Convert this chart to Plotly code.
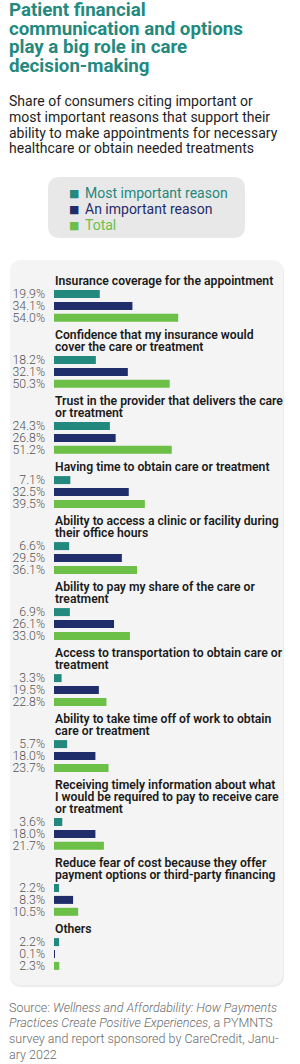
import plotly.graph_objects as go

# ---------------- data ----------------
categories = [
    "Insurance coverage for the appointment",
    "Confidence that my insurance would\ncover the care or treatment",
    "Trust in the provider that delivers the care\nor treatment",
    "Having time to obtain care or treatment",
    "Ability to access a clinic or facility during\ntheir office hours",
    "Ability to pay my share of the care or\ntreatment",
    "Access to transportation to obtain care or\ntreatment",
    "Ability to take time off of work to obtain\ncare or treatment",
    "Receiving timely information about what\nI would be required to pay to receive care\nor treatment",
    "Reduce fear of cost because they offer\npayment options or third-party financing",
    "Others",
]
most_important = [19.9, 18.2, 24.3, 7.1, 6.6, 6.9, 3.3, 5.7, 3.6, 2.2, 2.2]
an_important = [34.1, 32.1, 26.8, 32.5, 29.5, 26.1, 19.5, 18.0, 18.0, 8.3, 0.1]
total = [54.0, 50.3, 51.2, 39.5, 36.1, 33.0, 22.8, 23.7, 21.7, 10.5, 2.3]
series_names = ["Most important reason", "An important reason", "Total"]

title_lines = ["Patient financial", "communication and options",
               "play a big role in care", "decision-making"]
subtitle_lines = ["Share of consumers citing important or",
                  "most important reasons that support their",
                  "ability to make appointments for necessary",
                  "healthcare or obtain needed treatments"]
source_lines = ["Source: <i>Wellness and Affordability: How Payments</i>",
                "<i>Practices Create Positive Experiences</i>, a PYMNTS",
                "survey and report sponsored by CareCredit, Janu-",
                "ary 2022"]

# ---------------- styling ----------------
W, H = 300, 1064
TEAL = "#23897e"
NAVY = "#1f2d6b"
GREEN = "#6cbf47"
colors = [TEAL, NAVY, GREEN]
FONT = "Roboto"

X0_PX, X1_PX = 54, 284  # plot x extent in pixels (0..100%)

def px(x):
    return x / W

# layout of groups (pixel y positions from top)
LINE = 11.9
PITCH = 11.9
LAB_TO_BAR = 13.5
BAR_TO_LAB = 16.8
cur = 280.5
label_pos = []
bar_pos = []
for lab in categories:
    lines = lab.split("\n")
    for i, ln in enumerate(lines):
        label_pos.append((ln, cur + i * LINE))
    last = cur + (len(lines) - 1) * LINE
    b0 = last + LAB_TO_BAR
    bar_pos.append([b0, b0 + PITCH, b0 + 2 * PITCH])
    cur = b0 + 2 * PITCH + BAR_TO_LAB

fig = go.Figure()
series = [most_important, an_important, total]
for s, (name, vals) in enumerate(zip(series_names, series)):
    fig.add_trace(go.Bar(
        x=vals,
        y=[bp[s] for bp in bar_pos],
        orientation="h",
        width=8,
        marker=dict(color=colors[s], line=dict(width=0)),
        name=name,
        showlegend=False,
        hoverinfo="x",
    ))

tickvals, ticktext = [], []
for g in range(len(categories)):
    for s in range(3):
        tickvals.append(bar_pos[g][s])
        ticktext.append(f"{series[s][g]:.1f}%")

annotations = []
# title
for i, t in enumerate(title_lines):
    annotations.append(dict(text=t, x=px(7), y=10.4 + i * 18.4, xref="paper", yref="y",
                            xanchor="left", yanchor="middle", showarrow=False,
                            font=dict(family=FONT, size=18.7, color=TEAL, weight=700)))
for i, t in enumerate(subtitle_lines):
    annotations.append(dict(text=t, x=px(7), y=101 + i * 15.8, xref="paper", yref="y",
                            xanchor="left", yanchor="middle", showarrow=False,
                            font=dict(family=FONT, size=14, color="#1e1e1e")))
# legend
for i, name in enumerate(series_names):
    yy = 193 + i * 16
    annotations.append(dict(text="■", x=px(67), y=yy, xref="paper", yref="y",
                            xanchor="left", yanchor="middle", showarrow=False,
                            font=dict(family="DejaVu Sans", size=11, color=colors[i])))
    annotations.append(dict(text=name, x=px(83), y=yy, xref="paper", yref="y",
                            xanchor="left", yanchor="middle", showarrow=False,
                            font=dict(family=FONT, size=14, color=colors[i])))
# group labels
for ln, yy in label_pos:
    annotations.append(dict(text=ln, x=px(X0_PX - 1), y=yy, xref="paper", yref="y",
                            xanchor="left", yanchor="middle", showarrow=False,
                            font=dict(family=FONT, size=12.2, color="#1a1a1a", weight=600)))
# source
for i, t in enumerate(source_lines):
    annotations.append(dict(text=t, x=px(7), y=1007 + i * 15.7, xref="paper", yref="y",
                            xanchor="left", yanchor="middle", showarrow=False,
                            font=dict(family=FONT, size=12.5, color="#6a6a6a", weight=300)))

def rrect(x0, y0, x1, y1, r):
    a, b = px(x0), px(x1)
    ra = px(r)
    return (f"M{a+ra},{y0} L{b-ra},{y0} Q{b},{y0} {b},{y0+r} L{b},{y1-r} "
            f"Q{b},{y1} {b-ra},{y1} L{a+ra},{y1} Q{a},{y1} {a},{y1-r} "
            f"L{a},{y0+r} Q{a},{y0} {a+ra},{y0} Z")

shapes = [
    dict(type="path", path=rrect(48, 177, 245, 238, 12), xref="paper", yref="y",
         fillcolor="#e8e8e8", line=dict(width=0), layer="below"),
    dict(type="path", path=rrect(10, 261, 284, 987, 12), xref="paper", yref="y",
         fillcolor="#ececec", line=dict(width=0), layer="below"),
    dict(type="path", path=rrect(10, 260, 283, 985, 12), xref="paper", yref="y",
         fillcolor="#f4f4f4", line=dict(width=0), layer="below"),
]

fig.update_layout(
    width=W, height=H,
    margin=dict(l=0, r=0, t=0, b=0),
    paper_bgcolor="white", plot_bgcolor="rgba(0,0,0,0)",
    xaxis=dict(domain=[px(X0_PX), px(X1_PX)], range=[0, 100], visible=False, fixedrange=True),
    yaxis=dict(domain=[0, 1], range=[H, 0], tickvals=tickvals, ticktext=ticktext,
               showgrid=False, zeroline=False, showline=False, ticks="",
               ticklabelstandoff=8,
               tickfont=dict(family=FONT, size=12.3, color="#555555", weight=300),
               fixedrange=True),
    annotations=annotations,
    shapes=shapes,
    showlegend=False,
    barmode="overlay",
)

fig.write_html("out.html")
